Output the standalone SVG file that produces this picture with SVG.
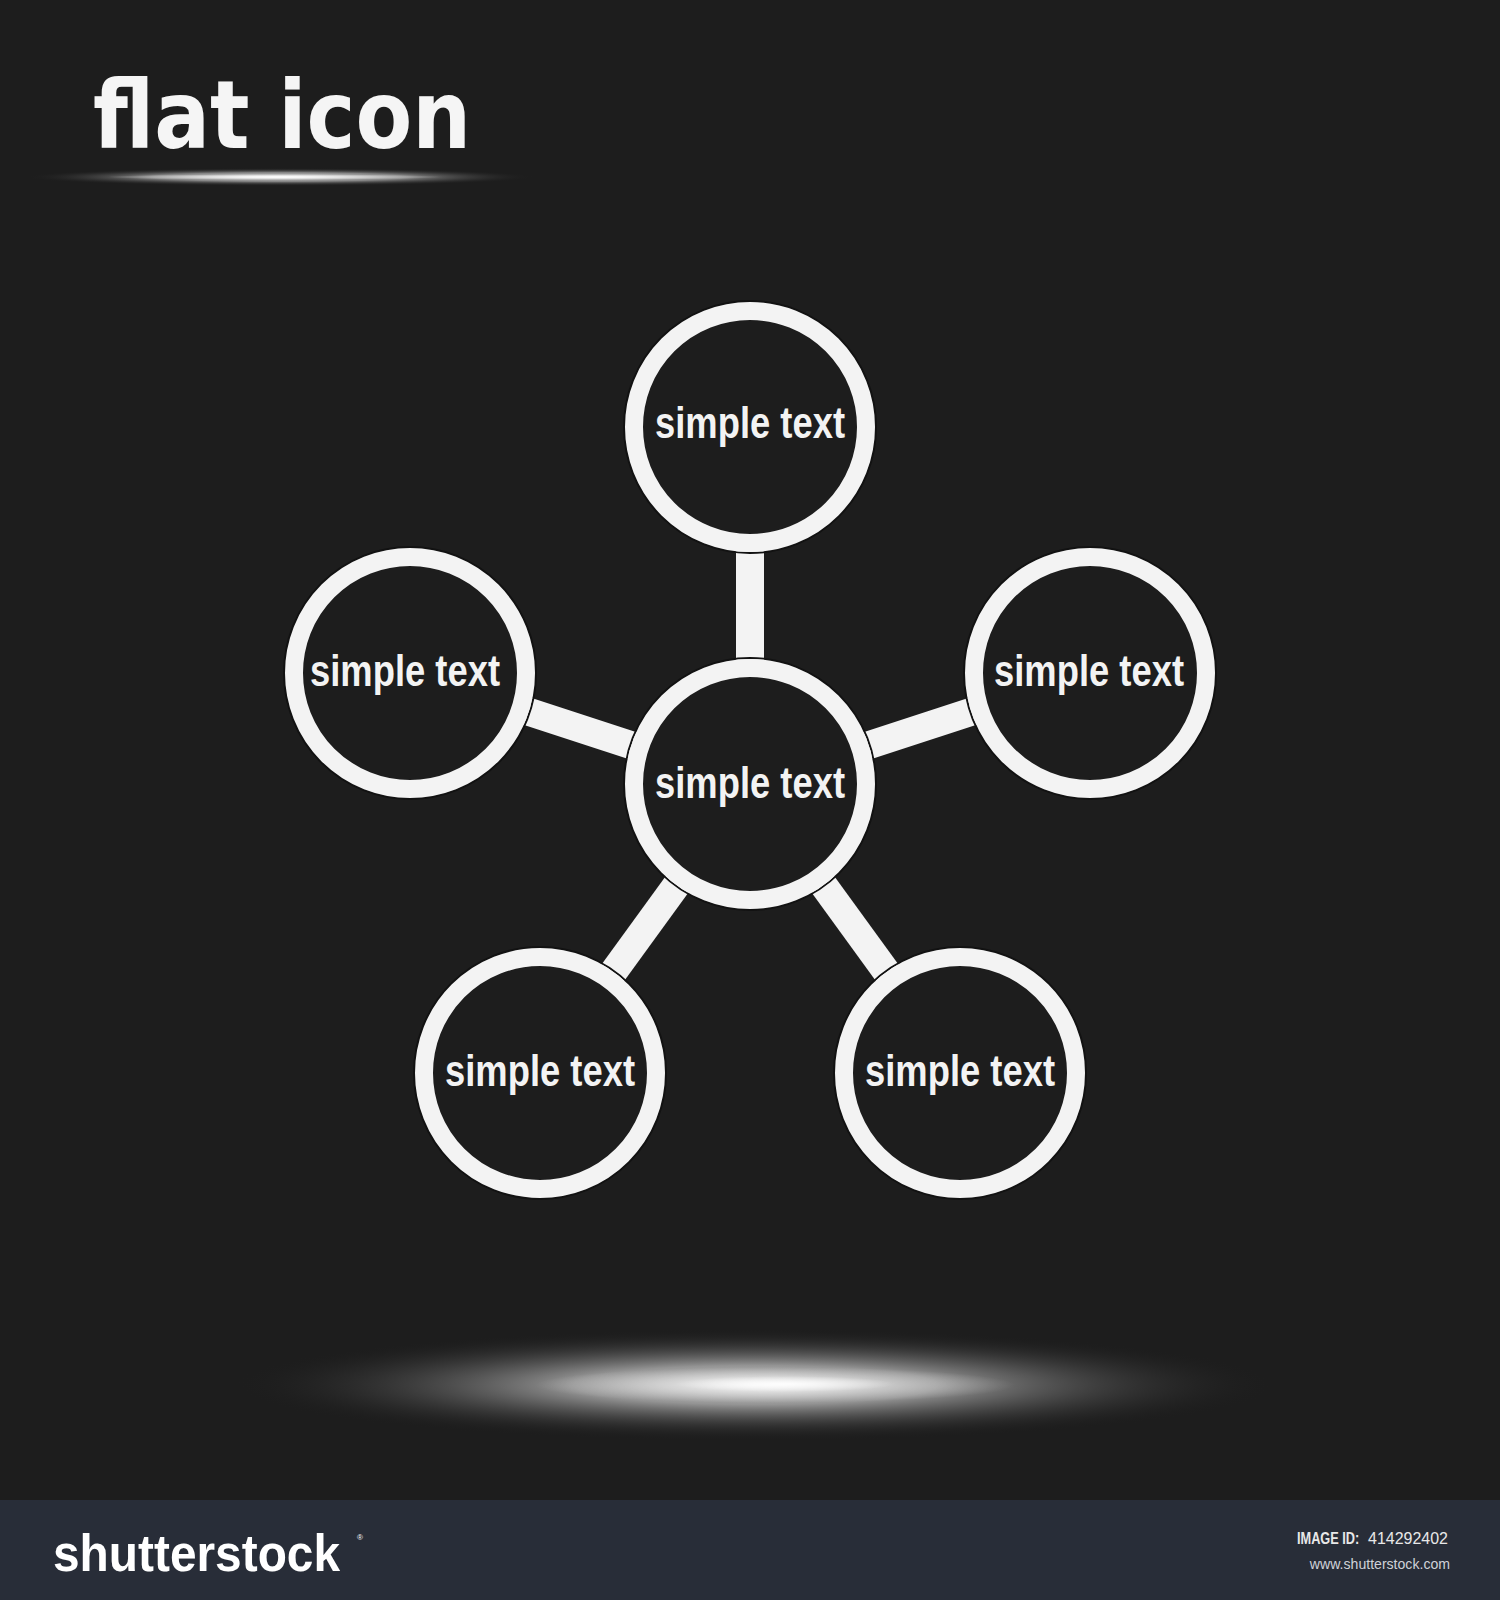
<svg xmlns="http://www.w3.org/2000/svg" width="1500" height="1600" viewBox="0 0 1500 1600">
  <defs>
    <radialGradient id="glowTitle" cx="0.5" cy="0.5" r="0.5">
      <stop offset="0" stop-color="#ffffff" stop-opacity="1"/>
      <stop offset="0.5" stop-color="#dddddd" stop-opacity="0.6"/>
      <stop offset="1" stop-color="#1d1d1d" stop-opacity="0"/>
    </radialGradient>
    <radialGradient id="glowFloor" cx="0.5" cy="0.5" r="0.5">
      <stop offset="0" stop-color="#ffffff" stop-opacity="1"/>
      <stop offset="0.35" stop-color="#d8d8d8" stop-opacity="0.75"/>
      <stop offset="0.7" stop-color="#808080" stop-opacity="0.3"/>
      <stop offset="1" stop-color="#1d1d1d" stop-opacity="0"/>
    </radialGradient>
    <radialGradient id="glowCore" cx="0.5" cy="0.5" r="0.5">
      <stop offset="0" stop-color="#ffffff" stop-opacity="1"/>
      <stop offset="1" stop-color="#ffffff" stop-opacity="0"/>
    </radialGradient>
  </defs>
  <style>
    .bg { fill: #1d1d1d; }
    .ring { fill: #1d1d1d; stroke: #f3f3f3; stroke-width: 18; }
    .edge { fill: none; stroke: #121212; stroke-width: 2; }
    .bar { stroke: #f3f3f3; stroke-width: 28; stroke-linecap: butt; }
    .lbl { font-family: "Liberation Sans Narrow", "Liberation Sans", "Open Sans", sans-serif; font-weight: bold; font-size: 44px; fill: #f3f3f3; text-anchor: middle; }
    .title { font-family: "DejaVu Sans", "Liberation Sans", sans-serif; font-weight: bold; font-size: 94px; fill: #f5f5f5; }
    .foot { fill: #282d38; }
    .fsmall { font-family: "Liberation Sans", sans-serif; font-size: 17px; fill: #e8e8e8; }
  </style>

  <rect class="bg" x="0" y="0" width="1500" height="1600"/>

  <!-- title -->
  <g id="title">
    <text class="title" x="93" y="148" textLength="378" lengthAdjust="spacingAndGlyphs">flat icon</text>
    <ellipse cx="280" cy="177" rx="255" ry="9" fill="url(#glowTitle)" opacity="0.9"/>
    <ellipse cx="275" cy="177" rx="170" ry="3" fill="url(#glowCore)"/>
  </g>

  <!-- floor glow -->
  <g id="floor-glow">
    <ellipse cx="755" cy="1385" rx="520" ry="56" fill="url(#glowFloor)" opacity="0.85"/>
    <ellipse cx="775" cy="1385" rx="240" ry="18" fill="url(#glowCore)" opacity="0.7"/>
    <ellipse cx="785" cy="1384" rx="110" ry="8" fill="url(#glowCore)" opacity="0.9"/>
  </g>

  <!-- connectors -->
  <g id="connectors">
    <line class="bar" x1="750" y1="784" x2="750" y2="427"/>
    <line class="bar" x1="750" y1="784" x2="410" y2="673"/>
    <line class="bar" x1="750" y1="784" x2="1090" y2="673"/>
    <line class="bar" x1="750" y1="784" x2="540" y2="1073"/>
    <line class="bar" x1="750" y1="784" x2="960" y2="1073"/>
  </g>

  <g id="node-top">
    <circle class="edge" cx="750" cy="427" r="126"/>
    <circle class="ring" cx="750" cy="427" r="116"/>
    <text class="lbl" x="750" y="438" textLength="190" lengthAdjust="spacingAndGlyphs">simple text</text>
  </g>
  <g id="node-center">
    <circle class="edge" cx="750" cy="784" r="126"/>
    <circle class="ring" cx="750" cy="784" r="116"/>
    <text class="lbl" x="750" y="798" textLength="190" lengthAdjust="spacingAndGlyphs">simple text</text>
  </g>
  <g id="node-left">
    <circle class="edge" cx="410" cy="673" r="126"/>
    <circle class="ring" cx="410" cy="673" r="116"/>
    <text class="lbl" x="405" y="686" textLength="190" lengthAdjust="spacingAndGlyphs">simple text</text>
  </g>
  <g id="node-right">
    <circle class="edge" cx="1090" cy="673" r="126"/>
    <circle class="ring" cx="1090" cy="673" r="116"/>
    <text class="lbl" x="1089" y="686" textLength="190" lengthAdjust="spacingAndGlyphs">simple text</text>
  </g>
  <g id="node-bottom-left">
    <circle class="edge" cx="540" cy="1073" r="126"/>
    <circle class="ring" cx="540" cy="1073" r="116"/>
    <text class="lbl" x="540" y="1086" textLength="190" lengthAdjust="spacingAndGlyphs">simple text</text>
  </g>
  <g id="node-bottom-right">
    <circle class="edge" cx="960" cy="1073" r="126"/>
    <circle class="ring" cx="960" cy="1073" r="116"/>
    <text class="lbl" x="960" y="1086" textLength="190" lengthAdjust="spacingAndGlyphs">simple text</text>
  </g>

  <!-- footer -->
  <g id="footer">
    <rect class="foot" x="0" y="1500" width="1500" height="100"/>
    <text transform="translate(53,1571) scale(0.92,1)" x="0" y="0" font-family="Liberation Sans, sans-serif" font-weight="bold" font-size="52" fill="#ffffff">shutterstock</text>
    <text x="357" y="1540" font-family="Liberation Sans, sans-serif" font-size="8" fill="#ffffff">®</text>
    <text class="fsmall" transform="translate(1297,1544) scale(0.75,1)" x="0" y="0" font-weight="bold">IMAGE ID:</text>
    <text class="fsmall" transform="translate(1368,1544) scale(0.94,1)" x="0" y="0">414292402</text>
    <text transform="translate(1450,1569) scale(0.94,1)" x="0" y="0" text-anchor="end" font-family="Liberation Sans, sans-serif" font-size="15" fill="#cfd2d8">www.shutterstock.com</text>
  </g>
</svg>
